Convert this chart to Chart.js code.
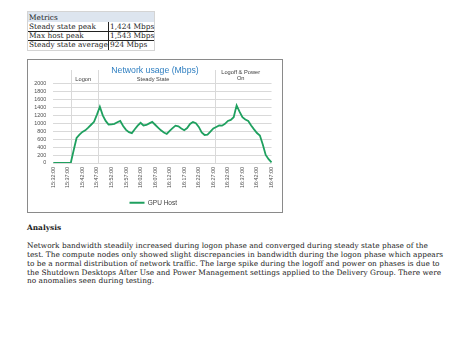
<!DOCTYPE html>
<html>
<head>
<meta charset="utf-8">
<script src="https://cdn.jsdelivr.net/npm/chart.js@4/dist/chart.umd.min.js"></script>
<style>
  html, body { margin: 0; padding: 0; background: #fff; }
  body { width: 474px; height: 355px; position: relative; overflow: hidden; font-family: "DejaVu Serif", serif; color: #1a1a1a; }
  .abs { position: absolute; }
  .tbl { left: 27px; top: 11px; width: 126px; height: 38px; border: 1px solid #d4d4d4; }
  .cell { position: absolute; font-size: 8.6px; line-height: 9px; white-space: nowrap; }
  .box { left: 27px; top: 59px; width: 254px; height: 152px; border: 1px solid #8a8a8a; }
  .para { font-size: 7.4px; line-height: 8.7px; white-space: nowrap; }
</style>
</head>
<body>
<div class="abs tbl">
  <div class="abs" style="left:0;top:0;width:126px;height:10px;background:#dde5ef;"></div>
  <div class="cell" style="left:1px;top:0.5px;">Metrics</div>
  <div class="abs" style="left:0;top:19px;width:126px;height:1px;background:#222;"></div>
  <div class="abs" style="left:0;top:28px;width:126px;height:1px;background:#222;"></div>
  <div class="abs" style="left:80px;top:10px;width:1px;height:28px;background:#222;"></div>
  <div class="cell" style="left:1px;top:10px;">Steady state peak</div>
  <div class="cell" style="left:82px;top:10px;">1,424 Mbps</div>
  <div class="cell" style="left:1px;top:19px;">Max host peak</div>
  <div class="cell" style="left:82px;top:19px;">1,543 Mbps</div>
  <div class="cell" id="fitCell" style="left:1px;top:28px;">Steady state average</div>
  <div class="cell" style="left:82px;top:28px;">924 Mbps</div>
</div>

<div class="abs box"></div>
<canvas id="c" class="abs" width="254" height="160" style="left:28px;top:60px;width:254px;height:160px;"></canvas>

<div class="abs para" style="left:27px;top:224px;font-weight:bold;">Analysis</div>
<div class="abs para" id="para" style="left:27px;top:242.4px;"><span id="fitLine">Network bandwidth steadily increased during logon phase and converged during steady state phase of the</span><br>test. The compute nodes only showed slight discrepancies in bandwidth during the logon phase which appears<br>to be a normal distribution of network traffic. The large spike during the logoff and power on phases is due to<br>the Shutdown Desktops After Use and Power Management settings applied to the Delivery Group. There were<br>no anomalies seen during testing.</div>

<script>
const chartTitle = 'Network usage (Mbps)';
const seriesName = 'GPU Host';
const timeLabels = [
  '15:32:00','15:33:00','15:34:00','15:35:00','15:36:00','15:37:00','15:38:00','15:39:00','15:40:00','15:41:00',
  '15:42:00','15:43:00','15:44:00','15:45:00','15:46:00','15:47:00','15:48:00','15:49:00','15:50:00','15:51:00',
  '15:52:00','15:53:00','15:54:00','15:55:00','15:56:00','15:57:00','15:58:00','15:59:00','16:00:00','16:01:00',
  '16:02:00','16:03:00','16:04:00','16:05:00','16:06:00','16:07:00','16:08:00','16:09:00','16:10:00','16:11:00',
  '16:12:00','16:13:00','16:14:00','16:15:00','16:16:00','16:17:00','16:18:00','16:19:00','16:20:00','16:21:00',
  '16:22:00','16:23:00','16:24:00','16:25:00','16:26:00','16:27:00','16:28:00','16:29:00','16:30:00','16:31:00',
  '16:32:00','16:33:00','16:34:00','16:35:00','16:36:00','16:37:00','16:38:00','16:39:00','16:40:00','16:41:00',
  '16:42:00','16:43:00','16:44:00','16:45:00','16:46:00','16:47:00'
];
const gpuHost = [
  0, 0, 0, 0, 0, 0, 0, 320, 630, 713,
  781, 822, 889, 962, 1035, 1218, 1415, 1198, 1059, 969,
  973, 987, 1025, 1060, 930, 834, 774, 751, 848, 939,
  1010, 945, 956, 996, 1035, 962, 892, 822, 769, 730,
  808, 876, 940, 922, 867, 826, 879, 981, 1029, 1001,
  907, 770, 705, 714, 789, 870, 906, 944, 939, 984,
  1058, 1085, 1150, 1450, 1290, 1152, 1095, 1057, 945, 847,
  754, 690, 464, 203, 95, 15
];
const yTickValues = { min: 0, max: 2000, step: 200 };
const labelEvery = 5;
const phaseNames = [['Logon'], ['Steady State'], ['Logoff & Power', 'On']];
const phaseLabelAt = [10.3, 34.3, 64.4];
const phaseBounds = [6, 15.2, 55.5];

// fit serif text sizes to the widths seen in the reference
(function fitText() {
  const mc = document.createElement('canvas').getContext('2d');
  function fit(el, target) {
    mc.font = '100px "DejaVu Serif"';
    return target / mc.measureText(el.textContent).width * 100;
  }
  const pSize = fit(document.getElementById('fitLine'), 401.5);
  document.querySelectorAll('.para').forEach(e => e.style.fontSize = pSize.toFixed(2) + 'px');
  const tSize = fit(document.getElementById('fitCell'), 79);
  document.querySelectorAll('.cell').forEach(e => e.style.fontSize = tSize.toFixed(2) + 'px');
})();

const FONT = 'Liberation Sans, Arial, sans-serif';
Chart.defaults.font.family = FONT;

const overlay = {
  id: 'overlay',
  beforeDatasetsDraw(chart) {
    const ctx = chart.ctx, x = chart.scales.x, y = chart.scales.y;
    ctx.save();
    ctx.strokeStyle = '#d9d9d9';
    ctx.lineWidth = 1;
    phaseBounds.forEach(b => {
      const px = Math.round(x.getPixelForValue(b)) + 0.5;
      ctx.beginPath();
      ctx.moveTo(px, 10);
      ctx.lineTo(px, y.getPixelForValue(0));
      ctx.stroke();
    });
    ctx.restore();
  },
  afterDraw(chart) {
    const ctx = chart.ctx, x = chart.scales.x;
    ctx.save();
    ctx.textAlign = 'center';
    ctx.textBaseline = 'middle';
    ctx.fillStyle = '#2f7fc1';
    ctx.font = '8.7px ' + FONT;
    ctx.fillText(chartTitle, chart.width / 2, 10.5);
    ctx.fillStyle = '#404040';
    ctx.font = '5.7px ' + FONT;
    phaseNames.forEach((lines, i) => {
      const px = x.getPixelForValue(phaseLabelAt[i]);
      const top = lines.length > 1 ? 12 : 19;
      lines.forEach((t, j) => ctx.fillText(t, px, top + j * 6.5));
    });
    ctx.restore();
  }
};

new Chart(document.getElementById('c'), {
  type: 'line',
  data: {
    labels: timeLabels,
    datasets: [{
      label: seriesName,
      data: gpuHost,
      borderColor: '#1fa05f',
      backgroundColor: '#1fa05f',
      borderWidth: 1.8,
      pointRadius: 0,
      tension: 0,
      fill: false
    }]
  },
  options: {
    responsive: false,
    devicePixelRatio: 1,
    animation: false,
    layout: { padding: { left: 5.5, right: 9, top: 23.5, bottom: 4 } },
    plugins: {
      title: { display: false },
      tooltip: { enabled: false },
      legend: {
        position: 'bottom',
        labels: {
          usePointStyle: true,
          pointStyle: 'line',
          pointStyleWidth: 15,
          padding: 4,
          color: '#404040',
          font: { size: 6.5, family: FONT }
        }
      }
    },
    scales: {
      x: {
        type: 'category',
        offset: false,
        grid: { display: false, drawTicks: false },
        border: { display: false },
        ticks: {
          autoSkip: false,
          minRotation: 90,
          maxRotation: 90,
          padding: 4,
          color: '#505050',
          font: { size: 5.4, family: FONT },
          callback: function (v, i) { return i % labelEvery === 0 ? timeLabels[i] : ''; }
        },
        afterFit: s => { s.height = 32.5; }
      },
      y: {
        min: yTickValues.min,
        max: yTickValues.max,
        grid: { color: '#d9d9d9', lineWidth: 1, drawTicks: false },
        border: { display: false },
        ticks: {
          stepSize: yTickValues.step,
          autoSkip: false,
          padding: 7,
          color: '#505050',
          font: { size: 5.4, family: FONT },
          callback: v => String(v)
        },
        afterFit: s => { s.width = 19.8; }
      }
    }
  },
  plugins: [overlay]
});
</script>
</body>
</html>
